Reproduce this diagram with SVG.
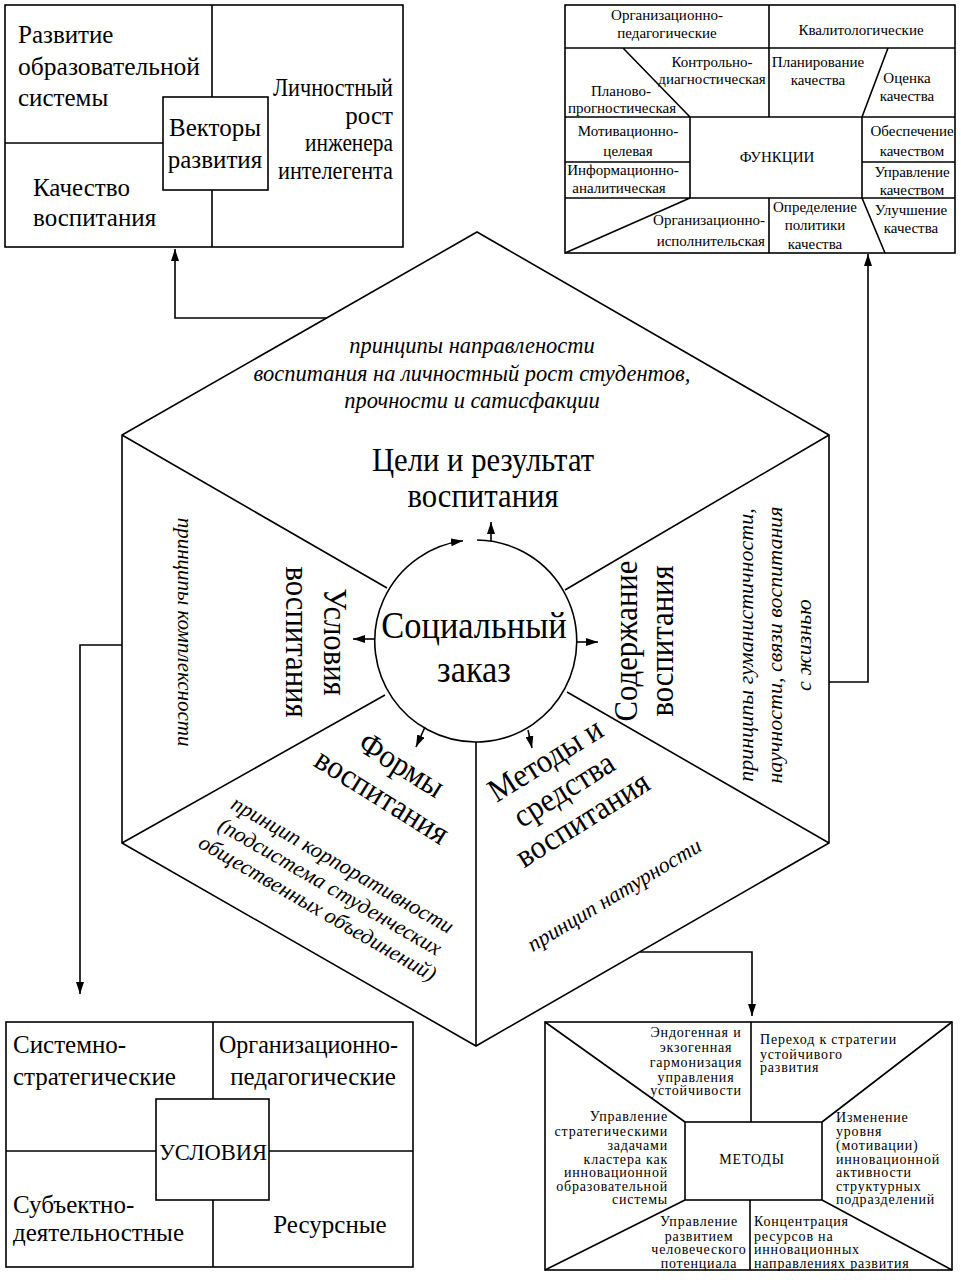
<svg xmlns="http://www.w3.org/2000/svg" width="961" height="1280" viewBox="0 0 961 1280">
<style>
  .ln{fill:none;stroke:#000;stroke-width:1.6}
  .bx{fill:#fff;stroke:#000;stroke-width:1.6}
  .t{font-family:"Liberation Serif","Times New Roman",serif;fill:#000}
  .big{font-size:25px}
  .mid{font-size:25px}
  .sm{font-size:15px}
  .xs{font-size:14px;letter-spacing:0.8px}
  .hx{font-size:33px}
  .it{font-size:22px;font-style:italic}
  .c{text-anchor:middle}
  .r{text-anchor:end}
</style>
<defs>
  <marker id="ah" viewBox="0 0 12 8" refX="12" refY="4" markerWidth="12" markerHeight="8" markerUnits="userSpaceOnUse" orient="auto">
    <path d="M0,0 L12,4 L0,8 Z" fill="#000"/>
  </marker>
</defs>
<rect width="961" height="1280" fill="#fff"/>

<g id="vectors">
  <rect class="bx" x="5" y="5" width="398" height="242"/>
  <path class="ln" d="M212,5 V97 M212,190 V247 M5,143 H163"/>
  <rect class="bx" x="163" y="97" width="105" height="93"/>
  <text class="t big" x="18" y="43">Развитие</text>
  <text class="t big" x="18" y="75" textLength="182" lengthAdjust="spacingAndGlyphs">образовательной</text>
  <text class="t big" x="18" y="106">системы</text>
  <text class="t big r" x="393" y="96" textLength="120" lengthAdjust="spacingAndGlyphs">Личностный</text>
  <text class="t big r" x="393" y="124">рост</text>
  <text class="t big r" x="393" y="151" textLength="88" lengthAdjust="spacingAndGlyphs">инженера</text>
  <text class="t big r" x="393" y="179" textLength="115" lengthAdjust="spacingAndGlyphs">интелегента</text>
  <text class="t big c" x="215" y="136">Векторы</text>
  <text class="t big c" x="215" y="168">развития</text>
  <text class="t big" x="33" y="196">Качество</text>
  <text class="t big" x="33" y="226">воспитания</text>
</g>

<g id="functions">
  <rect class="bx" x="565" y="5" width="390" height="248"/>
  <path class="ln" d="M769,5 V48 M565,48 H955 M623,48 L690,117 M769,48 V117 M888,48 L862,117 M565,117 H955 M690,117 V198 M862,117 V198 M565,162 H690 M862,162 H955 M565,198 H955 M565,253 L690,198 M769,198 V253 M862,198 L885,253"/>
  <text class="t sm c" x="667" y="20">Организационно-</text>
  <text class="t sm c" x="667" y="38">педагогические</text>
  <text class="t sm c" x="861" y="35">Квалитологические</text>
  <text class="t sm c" x="712" y="67">Контрольно-</text>
  <text class="t sm c" x="712" y="84">диагностическая</text>
  <text class="t sm c" x="621" y="96">Планово-</text>
  <text class="t sm c" x="622" y="113">прогностическая</text>
  <text class="t sm c" x="818" y="67">Планирование</text>
  <text class="t sm c" x="818" y="85">качества</text>
  <text class="t sm c" x="907" y="83">Оценка</text>
  <text class="t sm c" x="907" y="101">качества</text>
  <text class="t sm c" x="628" y="136">Мотивационно-</text>
  <text class="t sm c" x="628" y="156">целевая</text>
  <text class="t sm c" x="623" y="175">Информационно-</text>
  <text class="t sm c" x="619" y="193">аналитическая</text>
  <text class="t sm c" x="777" y="162">ФУНКЦИИ</text>
  <text class="t sm c" x="912" y="136">Обеспечение</text>
  <text class="t sm c" x="912" y="156">качеством</text>
  <text class="t sm c" x="912" y="177">Управление</text>
  <text class="t sm c" x="912" y="195">качеством</text>
  <text class="t sm r" x="765" y="225">Организационно-</text>
  <text class="t sm r" x="765" y="246">исполнительская</text>
  <text class="t sm c" x="815" y="212">Определение</text>
  <text class="t sm c" x="815" y="230">политики</text>
  <text class="t sm c" x="815" y="249">качества</text>
  <text class="t sm c" x="911" y="215">Улучшение</text>
  <text class="t sm c" x="911" y="233">качества</text>
</g>

<g id="hexagon">
  <polygon class="ln" points="477,232 829,435 829,843 476,1046 122,843 122,435"/>
  <path class="ln" d="M122,435 L387,588 M829,435 L565,590 M122,843 L385,695 M829,843 L567,692 M476,742 V1046"/>
  <text class="t it c" style="font-size:22.5px" x="472" y="353">принципы направлености</text>
  <text class="t it c" style="font-size:22.5px" x="472" y="381">воспитания на личностный рост студентов,</text>
  <text class="t it c" style="font-size:22.5px" x="472" y="408">прочности и сатисфакции</text>
  <g transform="translate(483,471) scale(0.93,1)">
    <text class="t hx c" x="0" y="0">Цели и результат</text>
    <text class="t hx c" x="0" y="36">воспитания</text>
  </g>
  <g transform="translate(324,642) rotate(90) scale(0.93,1)">
    <text class="t hx c" x="0" y="0">Условия</text>
    <text class="t hx c" x="0" y="38">воспитания</text>
  </g>
  <g transform="translate(637,641) rotate(-90) scale(0.93,1)">
    <text class="t hx c" x="0" y="0">Содержание</text>
    <text class="t hx c" x="0" y="36">воспитания</text>
  </g>
  <g transform="translate(178,632) rotate(90)">
    <text class="t it c" style="font-size:21px" x="0" y="0">принципы комплексности</text>
  </g>
  <g transform="translate(753,645) rotate(-90)">
    <text class="t it c" x="0" y="0">принципы гуманистичности,</text>
    <text class="t it c" x="0" y="29">научности, связи воспитания</text>
    <text class="t it c" x="0" y="58">с жизнью</text>
  </g>
  <g transform="translate(396,774) rotate(32) scale(0.93,1)">
    <text class="t hx c" x="0" y="0">Формы</text>
    <text class="t hx c" x="0" y="37">воспитания</text>
  </g>
  <g transform="translate(551,769) rotate(-32) scale(0.93,1)">
    <text class="t hx c" x="0" y="0">Методы и</text>
    <text class="t hx c" x="0" y="35">средства</text>
    <text class="t hx c" x="0" y="70">воспитания</text>
  </g>
  <g transform="translate(339,871) rotate(30)">
    <text class="t it c" x="0" y="0">принцип корпоративности</text>
    <text class="t it c" x="0" y="25">(подсистема студенческих</text>
    <text class="t it c" x="0" y="50">общественных объединений)</text>
  </g>
  <g transform="translate(618,901) rotate(-31)">
    <text class="t it c" x="0" y="0">принцип натурности</text>
  </g>
</g>

<g id="social-order">
  <path class="ln" d="M477,540 A101,101 0 1 1 463,540.8" marker-end="url(#ah)"/>
  <g transform="translate(474,638) scale(0.93,1)">
    <text class="t c" style="font-size:37px" x="0" y="0">Социальный</text>
    <text class="t c" style="font-size:37px" x="0" y="44">заказ</text>
  </g>
  <path class="ln" d="M491,541 V522" marker-end="url(#ah)"/>
  <path class="ln" d="M375,639 H353" marker-end="url(#ah)"/>
  <path class="ln" d="M577,642 H598" marker-end="url(#ah)"/>
  <path class="ln" d="M425,727 L416,747" marker-end="url(#ah)"/>
  <path class="ln" d="M528,730 L532,748" marker-end="url(#ah)"/>
</g>

<g id="conditions">
  <rect class="bx" x="6" y="1022" width="407" height="245"/>
  <path class="ln" d="M213,1022 V1099 M213,1200 V1267 M6,1151 H156 M269,1151 H413"/>
  <rect class="bx" x="156" y="1099" width="113" height="101"/>
  <text class="t mid" x="13" y="1053">Системно-</text>
  <text class="t mid" x="13" y="1085">стратегические</text>
  <text class="t mid" x="219" y="1053" textLength="179" lengthAdjust="spacingAndGlyphs">Организационно-</text>
  <text class="t mid c" x="313" y="1085">педагогические</text>
  <text class="t c" style="font-size:22.5px" x="213" y="1160">УСЛОВИЯ</text>
  <text class="t mid" x="13" y="1213">Субъектно-</text>
  <text class="t mid" x="13" y="1241">деятельностные</text>
  <text class="t mid c" x="330" y="1233">Ресурсные</text>
</g>

<g id="methods">
  <rect class="bx" x="545" y="1022" width="407" height="248"/>
  <path class="ln" d="M545,1022 L685,1122 M952,1022 L822,1122 M545,1270 L685,1200 M952,1270 L822,1200 M751,1022 V1122 M750,1200 V1270"/>
  <rect class="bx" x="685" y="1122" width="137" height="78"/>
  <text class="t xs c" x="696" y="1037">Эндогенная и</text>
  <text class="t xs c" x="696" y="1052">экзогенная</text>
  <text class="t xs c" x="696" y="1067">гармонизация</text>
  <text class="t xs c" x="696" y="1082">управления</text>
  <text class="t xs c" x="696" y="1095">устойчивости</text>
  <text class="t xs" x="760" y="1044">Переход к стратегии</text>
  <text class="t xs" x="760" y="1059">устойчивого</text>
  <text class="t xs" x="760" y="1072">развития</text>
  <text class="t xs r" x="668" y="1121">Управление</text>
  <text class="t xs r" x="668" y="1136">стратегическими</text>
  <text class="t xs r" x="668" y="1150">задачами</text>
  <text class="t xs r" x="668" y="1164">кластера как</text>
  <text class="t xs r" x="668" y="1177">инновационной</text>
  <text class="t xs r" x="668" y="1191">образовательной</text>
  <text class="t xs r" x="668" y="1204">системы</text>
  <text class="t xs" x="836" y="1122">Изменение</text>
  <text class="t xs" x="836" y="1136">уровня</text>
  <text class="t xs" x="836" y="1150">(мотивации)</text>
  <text class="t xs" x="836" y="1164">инновационной</text>
  <text class="t xs" x="836" y="1177">активности</text>
  <text class="t xs" x="836" y="1191">структурных</text>
  <text class="t xs" x="836" y="1204">подразделений</text>
  <text class="t xs c" x="752" y="1164">МЕТОДЫ</text>
  <text class="t xs c" x="699" y="1226">Управление</text>
  <text class="t xs c" x="699" y="1241">развитием</text>
  <text class="t xs c" x="699" y="1254">человеческого</text>
  <text class="t xs c" x="699" y="1268">потенциала</text>
  <text class="t xs" x="754" y="1226">Концентрация</text>
  <text class="t xs" x="754" y="1241">ресурсов на</text>
  <text class="t xs" x="754" y="1254">инновационных</text>
  <text class="t xs" x="754" y="1268">направлениях развития</text>
</g>

<g id="connectors">
  <path class="ln" d="M327,318 H175 V249" marker-end="url(#ah)"/>
  <path class="ln" d="M829,682 H868 V254" marker-end="url(#ah)"/>
  <path class="ln" d="M122,645 H80 V994" marker-end="url(#ah)"/>
  <path class="ln" d="M640,952 H752 V1016" marker-end="url(#ah)"/>
</g>
</svg>
